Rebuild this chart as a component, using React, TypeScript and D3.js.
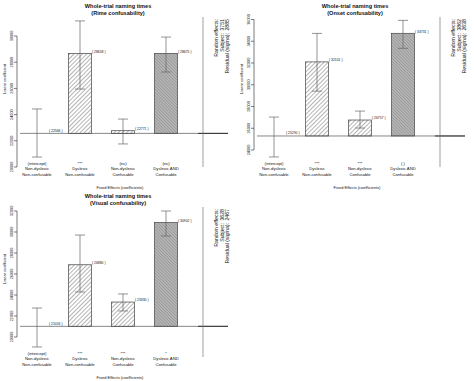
import React from "react";
import * as d3 from "d3";

// ---------- data ----------
const sigRime = ["(intercept)", "***", "(ns)", "(ns)"];
const sigOnset = ["(intercept)", "***", "***", "(.)"];
const sigVisual = ["(intercept)", "***", "***", "*"];
const groupLine1 = ["Non-dyslexic", "Dyslexic", "Non-dyslexic", "Dyslexic AND"];
const groupLine2 = ["Non-confusable", "Non-confusable", "Confusable", "Confusable"];

const rimeValues = [22566, 28658, 22771, 28675];
const rimeLo = [20760, 25950, 21760, 27250];
const rimeHi = [24430, 31150, 23660, 29920];
const rimeTicks = [20000, 22000, 24000, 26000, 28000, 30000];
const rimeRandom = [3751, 2885];

const onsetValues = [25290, 32101, 26757, 34731];
const onsetLo = [23360, 29410, 26020, 33350];
const onsetHi = [27030, 34720, 27580, 35920];
const onsetTicks = [24000, 26000, 28000, 30000, 32000, 34000, 36000];
const onsetRandom = [3862, 2638];

const visualValues = [21016, 26880, 23330, 30902];
const visualLo = [19050, 24290, 22480, 29620];
const visualHi = [22760, 29710, 24100, 32000];
const visualTicks = [20000, 22000, 24000, 26000, 28000, 30000, 32000];
const visualRandom = [3628, 2467];

const FONT = "'Liberation Sans', Arial, Helvetica, sans-serif";

type PanelProps = {
  ox: number;
  oy: number;
  subtitle: string;
  values: number[];
  lo: number[];
  hi: number[];
  sig: string[];
  ticks: number[];
  y0: number;
  y1: number;
  random: number[];
};

function Panel({ ox, oy, subtitle, values, lo, hi, sig, ticks, y0, y1, random }: PanelProps) {
  const y = d3
    .scaleLinear()
    .domain([ticks[0], ticks[ticks.length - 1]])
    .range([y0, y1]);
  const x = d3.scalePoint<number>().domain([0, 1, 2, 3]).range([37, 166]);
  const bw = 23;
  const base = values[0];
  const yb = y(base);
  const axisX = 17;
  const cap = 5;
  return (
    <g transform={`translate(${ox},${oy})`} fontFamily={FONT}>
      <text x={118} y={7.5} textAnchor="middle" fontSize={5.6} fontWeight="bold" fill="#111">
        Whole-trial naming times
      </text>
      <text x={118} y={15} textAnchor="middle" fontSize={5.6} fontWeight="bold" fill="#111">
        {subtitle}
      </text>
      <line x1={axisX} x2={axisX} y1={y(ticks[0])} y2={y(ticks[ticks.length - 1])} stroke="#444" strokeWidth={0.7} />
      {ticks.map((t) => (
        <g key={t}>
          <line x1={axisX - 3} x2={axisX} y1={y(t)} y2={y(t)} stroke="#444" strokeWidth={0.7} />
          <text transform={`translate(${13},${y(t)}) rotate(-90)`} textAnchor="middle" fontSize={3.8} fill="#111">
            {t}
          </text>
        </g>
      ))}
      <text transform={`translate(${5.5},${79}) rotate(-90)`} textAnchor="middle" fontSize={4} fill="#111">
        Linear coefficient
      </text>
      {values.map((v, i) => {
        if (i === 0) return null;
        const cx = x(i)!;
        const top = Math.min(y(v), yb);
        const h = Math.abs(y(v) - yb);
        return (
          <rect
            key={i}
            x={cx - bw / 2}
            y={top}
            width={bw}
            height={h}
            fill={i === 3 ? "url(#hatchB)" : "url(#hatchA)"}
            stroke="#444"
            strokeWidth={0.7}
          />
        );
      })}
      <line x1={20} x2={228} y1={yb} y2={yb} stroke="#555" strokeWidth={0.7} />
      <line x1={198} x2={228} y1={yb} y2={yb} stroke="#333" strokeWidth={1} />
      <line x1={203} x2={203} y1={17} y2={167} stroke="#777" strokeWidth={0.7} />
      {values.map((v, i) => {
        const cx = x(i)!;
        return (
          <g key={"e" + i} stroke="#666" strokeWidth={0.7}>
            <line x1={cx} x2={cx} y1={y(lo[i])} y2={y(hi[i])} />
            <line x1={cx - cap} x2={cx + cap} y1={y(lo[i])} y2={y(lo[i])} />
            <line x1={cx - cap} x2={cx + cap} y1={y(hi[i])} y2={y(hi[i])} />
          </g>
        );
      })}
      {values.map((v, i) => (
        <text key={"v" + i} x={x(i)! + bw / 2 + 0.5} y={y(v) - (i === 0 ? 1.5 : 0.6)} fontSize={3.4} fill="#111">
          {`( ${v} )`}
        </text>
      ))}
      {values.map((v, i) => (
        <g key={"c" + i} fontSize={4.2} fill="#111" textAnchor="middle">
          <text x={x(i)!} y={164.5}>{sig[i]}</text>
          <text x={x(i)!} y={170}>{groupLine1[i]}</text>
          <text x={x(i)!} y={175.5}>{groupLine2[i]}</text>
        </g>
      ))}
      <text x={120} y={188.5} textAnchor="middle" fontSize={4} fill="#111">
        Fixed Effects (coefficients)
      </text>
      <g fontSize={5.2} fill="#111" textAnchor="end">
        <text transform={`translate(${218},${19}) rotate(-90)`}>Random effects:</text>
        <text transform={`translate(${223.5},${33}) rotate(-90)`}>Subject:</text>
        <text transform={`translate(${223.5},${19}) rotate(-90)`}>{random[0]}</text>
        <text transform={`translate(${229},${33}) rotate(-90)`}>Residual (sigma):</text>
        <text transform={`translate(${229},${19}) rotate(-90)`}>{random[1]}</text>
      </g>
    </g>
  );
}

export default function App() {
  return (
    <svg
      width={474}
      height={381}
      viewBox="0 0 474 381"
      style={{ position: "absolute", left: 0, top: 0, background: "#fff" }}
    >
      <defs>
        <pattern id="hatchA" patternUnits="userSpaceOnUse" width={3} height={3} patternTransform="rotate(45)">
          <rect width={3} height={3} fill="#fff" />
          <line x1={0} y1={0} x2={0} y2={3} stroke="#444" strokeWidth={0.8} />
        </pattern>
        <pattern id="hatchB" patternUnits="userSpaceOnUse" width={2.2} height={2.2} patternTransform="rotate(-45)">
          <rect width={2.2} height={2.2} fill="#b4b4b4" />
          <line x1={0} y1={0} x2={0} y2={2.2} stroke="#7a7a7a" strokeWidth={0.7} />
        </pattern>
      </defs>
      <rect width={474} height={381} fill="#fff" />
      <Panel ox={0} oy={0} subtitle="(Rime confusability)" values={rimeValues} lo={rimeLo} hi={rimeHi}
        sig={sigRime} ticks={rimeTicks} y0={167} y1={36} random={rimeRandom} />
      <Panel ox={237} oy={0} subtitle="(Onset confusability)" values={onsetValues} lo={onsetLo} hi={onsetHi}
        sig={sigOnset} ticks={onsetTicks} y0={150} y1={19.5} random={onsetRandom} />
      <Panel ox={0} oy={190} subtitle="(Visual confusability)" values={visualValues} lo={visualLo} hi={visualHi}
        sig={sigVisual} ticks={visualTicks} y0={147} y1={21} random={visualRandom} />
    </svg>
  );
}
